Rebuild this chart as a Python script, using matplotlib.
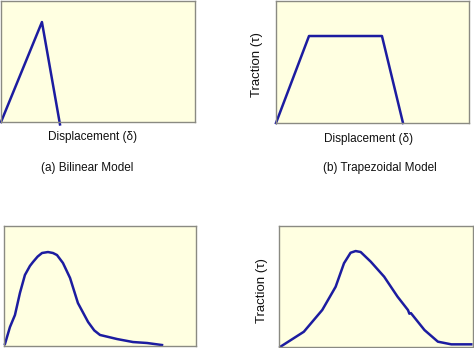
import matplotlib
matplotlib.use("Agg")
import matplotlib.pyplot as plt

plt.rcParams['font.family'] = ['Liberation Sans', 'DejaVu Sans']

# Traction-separation laws (arbitrary units, 0..10 on both axes)
bilinear_x = [0.0, 2.11, 3.04]
bilinear_y = [0.0, 8.26, -0.2]

trapezoid_x = [0.0, 1.71, 5.49, 6.58]
trapezoid_y = [0.0, 7.13, 7.13, 0.0]

skewed_x = [0.05, 0.31, 0.57, 0.83, 1.09, 1.35, 1.51, 1.75, 1.98, 2.29, 2.55,
            2.76, 3.07, 3.44, 3.85, 4.38, 4.7, 5.0, 5.89, 6.72, 7.45, 8.23]
skewed_y = [0.17, 1.58, 2.58, 4.42, 5.92, 6.67, 7.0, 7.45, 7.75, 7.83, 7.75,
            7.58, 6.92, 5.67, 3.58, 2.0, 1.3, 0.92, 0.58, 0.33, 0.25, 0.08]

bell_x = [0.07, 1.28, 2.23, 2.92, 3.35, 3.69, 3.95, 4.21, 4.73, 5.42, 6.11,
          6.65, 6.72, 6.80, 7.5, 8.19, 8.88, 9.91]
bell_y = [0.02, 1.26, 3.06, 4.98, 6.92, 7.79, 7.93, 7.85, 7.05, 5.81, 4.16,
          3.05, 2.75, 2.80, 1.40, 0.44, 0.22, 0.22]

W, H = 474, 348
BG = '#FFFFE1'
LINE = '#1c1ca0'
EDGE = '#8a8a82'


def panel(x0, y0, x1, y1):
    ax = fig.add_axes([x0 / W, 1 - y1 / H, (x1 - x0) / W, (y1 - y0) / H])
    ax.set_facecolor(BG)
    ax.set_xlim(0, 10)
    ax.set_ylim(0, 10)
    ax.set_xticks([])
    ax.set_yticks([])
    for s in ax.spines.values():
        s.set_color(EDGE)
        s.set_linewidth(1.0)
    return ax


def label(x, y, s, rot=0, size=8.5):
    fig.text(x / W, 1 - y / H, s, ha='center', va='center', rotation=rot,
             fontsize=size, color='#111111')


fig = plt.figure(figsize=(W / 100, H / 100), dpi=100)

ax_a = panel(1, 1, 195, 122)
ax_a.plot(bilinear_x, bilinear_y, color=LINE, lw=1.8, clip_on=False)

ax_b = panel(276, 1, 469, 123)
ax_b.plot(trapezoid_x, trapezoid_y, color=LINE, lw=1.8, clip_on=False)

ax_c = panel(4, 226, 196, 346)
ax_c.plot(skewed_x, skewed_y, color=LINE, lw=1.8, clip_on=False)

ax_d = panel(279, 226, 473, 347)
ax_d.plot(bell_x, bell_y, color=LINE, lw=1.8, clip_on=False)

label(93, 137, 'Displacement (δ)')
label(87, 168, '(a) Bilinear Model')
label(369, 139, 'Displacement (δ)')
label(380, 168, '(b) Trapezoidal Model')
label(257, 65, 'Traction (τ)', rot=90, size=9.5)
label(262, 291, 'Traction (τ)', rot=90, size=9.5)

fig.savefig('out.png', dpi=100, facecolor='white')
